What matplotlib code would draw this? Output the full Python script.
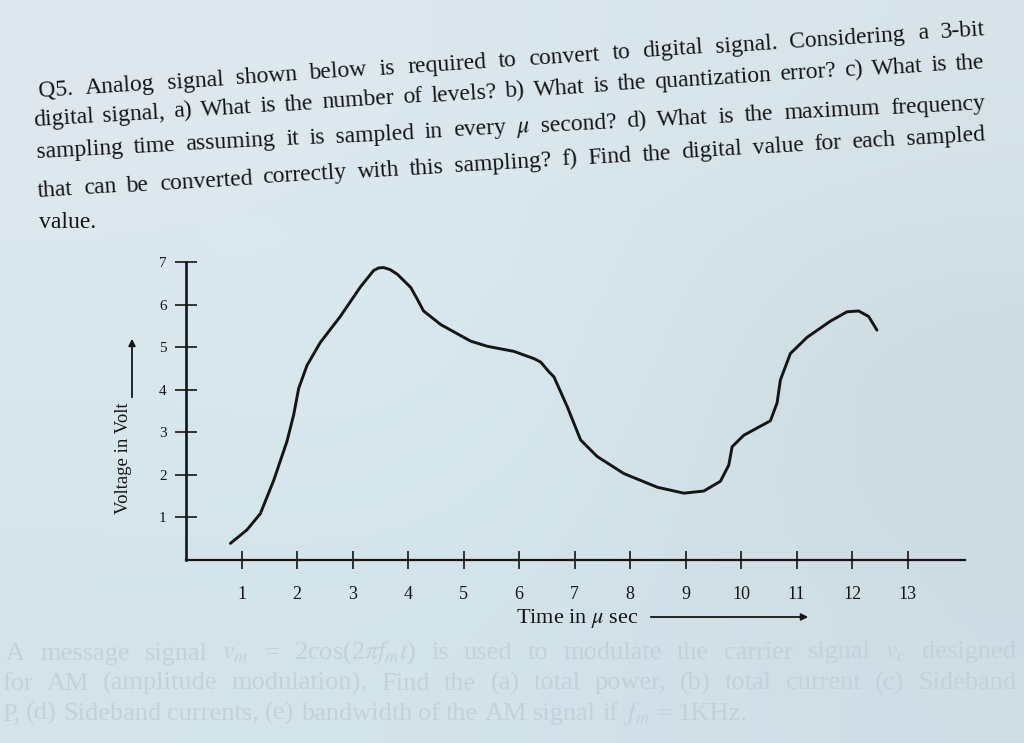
import numpy as np
import matplotlib
matplotlib.use("Agg")
import matplotlib.pyplot as plt

plt.rcParams["font.family"] = ["Liberation Serif", "DejaVu Serif"]
plt.rcParams["mathtext.fontset"] = "stix"

# analog signal: time in micro seconds, voltage in volt
time_us = [0.80, 1.10, 1.34, 1.58, 1.82, 1.94, 2.03, 2.18, 2.42, 2.78,
           3.14, 3.38, 3.47, 3.56, 3.68, 3.81, 4.05, 4.17, 4.28, 4.59,
           5.13, 5.43, 5.91, 6.27, 6.39, 6.54, 6.63, 6.87, 7.11, 7.41,
           7.89, 8.49, 8.97, 9.33, 9.63, 9.78, 9.84, 10.05, 10.53, 10.65,
           10.71, 10.89, 11.19, 11.61, 11.91, 12.12, 12.30, 12.45]
volts = [0.39, 0.71, 1.09, 1.87, 2.79, 3.41, 4.03, 4.57, 5.11, 5.72,
         6.41, 6.80, 6.86, 6.87, 6.82, 6.71, 6.40, 6.12, 5.85, 5.53,
         5.14, 5.02, 4.90, 4.73, 4.65, 4.42, 4.30, 3.60, 2.82, 2.43,
         2.03, 1.71, 1.57, 1.62, 1.85, 2.23, 2.66, 2.93, 3.27, 3.69,
         4.23, 4.85, 5.23, 5.61, 5.83, 5.85, 5.72, 5.40]
x_ticks = list(range(1, 14))
y_ticks = list(range(1, 8))

question = [
    "Q5. Analog signal shown below is required to convert to digital signal. Considering a 3-bit",
    "digital signal, a) What is the number of levels? b) What is the quantization error? c) What is the",
    r"sampling time assuming it is sampled in every $\mu$ second? d) What is the maximum frequency",
    "that can be converted correctly with this sampling? f) Find the digital value for each sampled",
    "value.",
]
# faint text showing through from the next page
next_page = [
    r"A message signal $v_m$ = 2cos(2$\pi{}f_mt$) is used to modulate the carrier signal $v_c$ designed",
    "for AM (amplitude modulation). Find the (a) total power, (b) total current (c) Sideband",
    r"P, (d) Sideband currents, (e) bandwidth of the AM signal if $f_m$ = 1KHz.",
]

W, H = 1024, 743

# baselines of the text lines in image pixels (from the top-left corner)
q_lines = [((39, 97), (985, 35)), ((34, 126), (985, 68)),
           ((37, 158), (985, 109)), ((38, 197), (985, 140)),
           ((39, 228), None)]
np_lines = [((6, 660), (1016, 658)), ((2, 690), (1016, 689)),
            ((2, 720), None)]


def put_line(fig, renderer, text, start, end, size, color):
    words = text.split(" ")
    widths = []
    for w in words:
        t = fig.text(0, 0, w, fontsize=size)
        widths.append(t.get_window_extent(renderer).width)
        t.remove()
    x0, y0 = start[0], H - start[1]
    if end is None:
        ang = 0.0
        gap = size * 0.32
    else:
        x1, y1 = end[0], H - end[1]
        ang = np.arctan2(y1 - y0, x1 - x0)
        length = np.hypot(x1 - x0, y1 - y0)
        gap = (length - sum(widths)) / (len(words) - 1)
    pos = 0.0
    for w, wd in zip(words, widths):
        px = x0 + pos * np.cos(ang)
        py = y0 + pos * np.sin(ang)
        fig.text(px / W, py / H, w, fontsize=size, color=color,
                 rotation=np.degrees(ang), rotation_mode="anchor",
                 ha="left", va="baseline")
        pos += wd + gap


def main():
    fig = plt.figure(figsize=(W / 100, H / 100), dpi=100)

    # paper background
    bg = fig.add_axes([0, 0, 1, 1], zorder=-10)
    paper = np.array([
        [[224, 232, 239], [219, 231, 238], [216, 228, 234]],
        [[216, 232, 238], [216, 234, 240], [203, 218, 223]],
        [[212, 227, 234], [211, 227, 234], [208, 221, 230]],
    ]) / 255.0
    bg.imshow(paper, extent=[0, 1, 0, 1], aspect="auto",
              interpolation="bicubic")
    bg.axis("off")

    renderer = fig.canvas.get_renderer()
    for text, (start, end) in zip(question, q_lines):
        put_line(fig, renderer, text, start, end, 17, "#141414")
    for text, (start, end) in zip(next_page, np_lines):
        put_line(fig, renderer, text, start, end, 19, "#c4d1db")

    ax = fig.add_axes([186 / W, (H - 560) / H, 779 / W, 298 / H])
    ax.set_facecolor("none")
    ax.plot(time_us, volts, color="#151515", lw=2.1,
            solid_capstyle="round", solid_joinstyle="round")
    ax.set_xlim(0, 779 / 55.5)
    ax.set_ylim(0, 7.0)

    for side in ["top", "right"]:
        ax.spines[side].set_visible(False)
    ax.spines["left"].set_linewidth(1.9)
    ax.spines["bottom"].set_linewidth(1.6)
    ax.spines["left"].set_color("#151515")
    ax.spines["bottom"].set_color("#151515")

    ax.set_xticks(x_ticks)
    ax.set_xticklabels([str(v) for v in x_ticks])
    ax.set_yticks(y_ticks)
    ax.set_yticklabels([str(v) for v in y_ticks])
    ax.tick_params(axis="x", direction="inout", length=13, width=1.2,
                   pad=12, labelsize=13, colors="#151515")
    ax.tick_params(axis="y", direction="inout", length=16, width=1.2,
                   pad=6, labelsize=11, colors="#151515")

    # axis titles with their arrows
    fig.text(123 / W, (H - 458) / H, "Voltage in Volt", fontsize=13.5,
             rotation=90, ha="center", va="center", color="#151515")
    ax.annotate("", xy=(132, H - 336), xytext=(132, H - 400),
                xycoords="figure pixels", textcoords="figure pixels",
                arrowprops=dict(arrowstyle="-|>", lw=1.3, color="#151515",
                                mutation_scale=10))
    fig.text(516 / W, (H - 618) / H, r"Time in $\mu$ sec", fontsize=16,
             ha="left", va="center", color="#151515")
    ax.annotate("", xy=(811, H - 617), xytext=(648, H - 617),
                xycoords="figure pixels", textcoords="figure pixels",
                arrowprops=dict(arrowstyle="-|>", lw=1.3, color="#151515",
                                mutation_scale=10))

    fig.savefig("out.png", dpi=100)


if __name__ == "__main__":
    main()
